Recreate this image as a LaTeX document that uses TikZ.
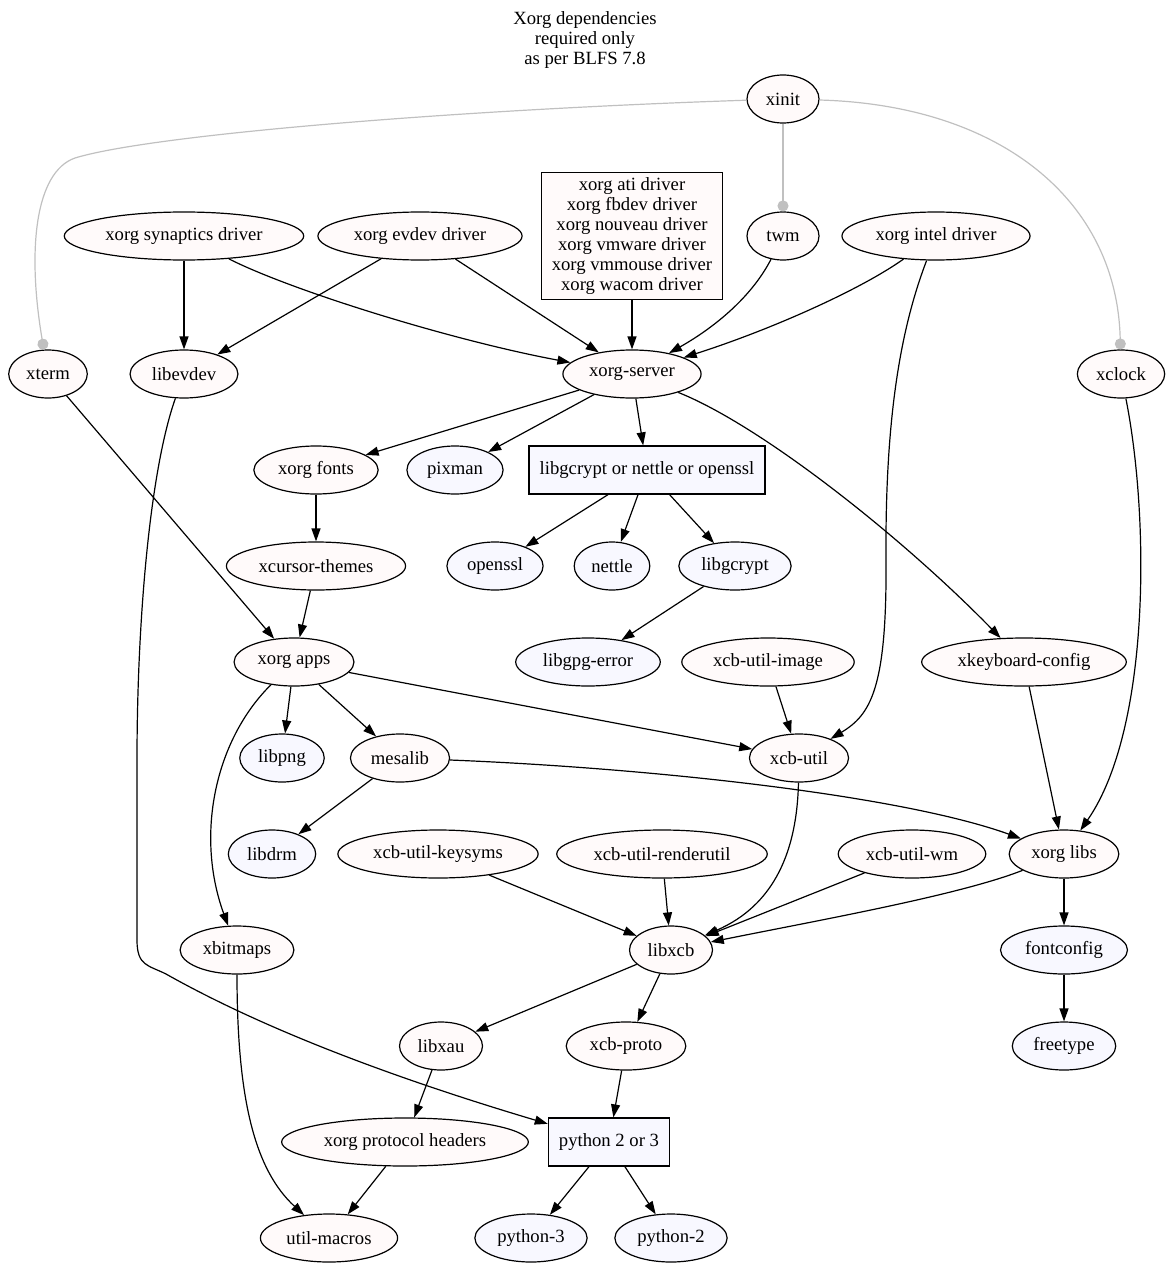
\documentclass[tikz,border=0pt]{standalone}
\usepackage{fontspec}
\setmainfont{Liberation Serif}
\usetikzlibrary{shapes.geometric,arrows.meta}
\definecolor{snowfill}{HTML}{FFFAFA}
\definecolor{ghostfill}{HTML}{F8F8FF}
\definecolor{optgray}{HTML}{C0C0C0}

\begin{document}
\begin{tikzpicture}[x=1pt,y=-1pt,->,>={Triangle[length=13pt,width=9pt]},line width=1.2pt,
		every node/.style={font=\fontsize{18.67}{20}\selectfont},
		xorg node/.style={ellipse,draw,fill=snowfill,minimum width=72pt,minimum height=48pt,inner xsep=6pt,inner ysep=2pt},
		ext node/.style={xorg node,fill=ghostfill},
		ext box/.style={rectangle,draw,fill=ghostfill,minimum height=48pt,inner xsep=10.6pt,inner ysep=5.3pt,align=center},
		opt edge/.style={draw=optgray,-{Circle[length=11pt]}}]
		
		\useasboundingbox (0,0) rectangle (1172,1268);
		\node[align=center] (title) at (585,40) {Xorg dependencies\\required only\\as per BLFS 7.8};
		
		\node[xorg node] (xinit) at (783,99) {xinit};
		\node[xorg node] (syn) at (184,236) {xorg synaptics driver};
		\node[xorg node] (evdev) at (420,236) {xorg evdev driver};
		\node[ext box,fill=snowfill] (drivers) at (632,236) {xorg ati driver\\xorg fbdev driver\\xorg nouveau driver\\xorg vmware driver\\xorg vmmouse driver\\xorg wacom driver};
		\node[xorg node] (twm) at (783,236) {twm};
		\node[xorg node] (intel) at (936,236) {xorg intel driver};
		\node[xorg node] (xterm) at (48,374) {xterm};
		\node[xorg node] (libevdev) at (184,374) {libevdev};
		\node[xorg node] (xserver) at (632,374) {xorg-server};
		\node[xorg node] (xclock) at (1121,374) {xclock};
		\node[xorg node] (xfonts) at (316,470) {xorg fonts};
		\node[ext node] (pixman) at (455,470) {pixman};
		\node[ext box] (crypto) at (647,470) {libgcrypt or nettle or openssl};
		\node[xorg node] (xcursor) at (316,566) {xcursor-themes};
		\node[ext node] (openssl) at (495,566) {openssl};
		\node[ext node] (nettle) at (612,566) {nettle};
		\node[ext node] (libgcrypt) at (735,566) {libgcrypt};
		\node[xorg node] (xapps) at (294,662) {xorg apps};
		\node[ext node] (gpgerror) at (588,662) {libgpg-error};
		\node[xorg node] (xcbimage) at (768,662) {xcb-util-image};
		\node[xorg node] (xkb) at (1024,662) {xkeyboard-config};
		\node[ext node] (libpng) at (282,758) {libpng};
		\node[xorg node] (mesalib) at (400,758) {mesalib};
		\node[xorg node] (xcbutil) at (799,758) {xcb-util};
		\node[ext node] (libdrm) at (272,854) {libdrm};
		\node[xorg node] (keysyms) at (438,854) {xcb-util-keysyms};
		\node[xorg node] (renderutil) at (662,854) {xcb-util-renderutil};
		\node[xorg node] (xcbwm) at (912,854) {xcb-util-wm};
		\node[xorg node] (xorglibs) at (1064,854) {xorg libs};
		\node[xorg node] (xbitmaps) at (237,950) {xbitmaps};
		\node[xorg node] (libxcb) at (671,950) {libxcb};
		\node[ext node] (fontconfig) at (1064,950) {fontconfig};
		\node[xorg node] (libxau) at (441,1046) {libxau};
		\node[xorg node] (xcbproto) at (626,1046) {xcb-proto};
		\node[ext node] (freetype) at (1064,1046) {freetype};
		\node[xorg node] (protohdr) at (405,1142) {xorg protocol headers};
		\node[ext box] (python) at (609,1142) {python 2 or 3};
		\node[xorg node] (utilmacros) at (329,1238) {util-macros};
		\node[ext node] (python3) at (531,1238) {python-3};
		\node[ext node] (python2) at (671,1238) {python-2};
		
		% optional runtime deps of xinit
		\draw[opt edge] (xinit) .. controls (450,110) and (150,135) .. (75,158) .. controls (35,172) and (27,250) .. (xterm);
		\draw[opt edge] (xinit) .. controls (1000,105) and (1117,200) .. (xclock);
		\path (xinit) edge[opt edge] (twm);
		
		\path
		(syn) edge (libevdev)
		(evdev) edge (libevdev)
			edge (xserver)
		(drivers) edge (xserver)
		(xterm) edge (xapps)
		(xserver) edge (xfonts)
			edge (pixman)
			edge (crypto)
		(xfonts) edge (xcursor)
		(crypto) edge (openssl)
			edge (nettle)
			edge (libgcrypt)
		(libgcrypt) edge (gpgerror)
		(xcursor) edge (xapps)
		(xapps) edge (libpng)
			edge (mesalib)
			edge (xcbutil)
		(xcbimage) edge (xcbutil)
		(xkb) edge (xorglibs)
		(mesalib) edge (libdrm)
		(keysyms) edge (libxcb)
		(renderutil) edge (libxcb)
		(xcbwm) edge (libxcb)
		(xorglibs) edge (fontconfig)
		(fontconfig) edge (freetype)
		(libxcb) edge (libxau)
			edge (xcbproto)
		(libxau) edge (protohdr)
		(xcbproto) edge (python)
		(protohdr) edge (utilmacros)
		(python) edge (python3)
			edge (python2);
		
		% curved ones
		\draw (syn) .. controls (290,290) and (450,340) .. (xserver);
		\draw (twm) .. controls (750,300) and (710,330) .. (xserver);
		\draw (intel) .. controls (860,290) and (770,330) .. (xserver);
		\draw (intel) .. controls (900,330) and (885,420) .. (886,560) .. controls (887,690) and (870,715) .. (xcbutil);
		\draw (xclock) .. controls (1150,520) and (1150,730) .. (xorglibs);
		\draw (libevdev) .. controls (150,470) and (137,620) .. (137,760) -- (137,940) .. controls (137,966) and (148,965) .. (166,974) .. controls (230,1010) and (340,1062) .. (python);
		\draw (xserver) .. controls (760,425) and (900,535) .. (xkb);
		\draw (mesalib) .. controls (650,768) and (900,795) .. (xorglibs);
		\draw (xcbutil) .. controls (797,850) and (775,905) .. (libxcb);
		\draw (xorglibs) .. controls (960,895) and (820,920) .. (libxcb);
		\draw (xapps) .. controls (215,740) and (195,835) .. (xbitmaps);
		\draw (xbitmaps) .. controls (237,1100) and (255,1170) .. (utilmacros);
		
\end{tikzpicture}
\end{document}
